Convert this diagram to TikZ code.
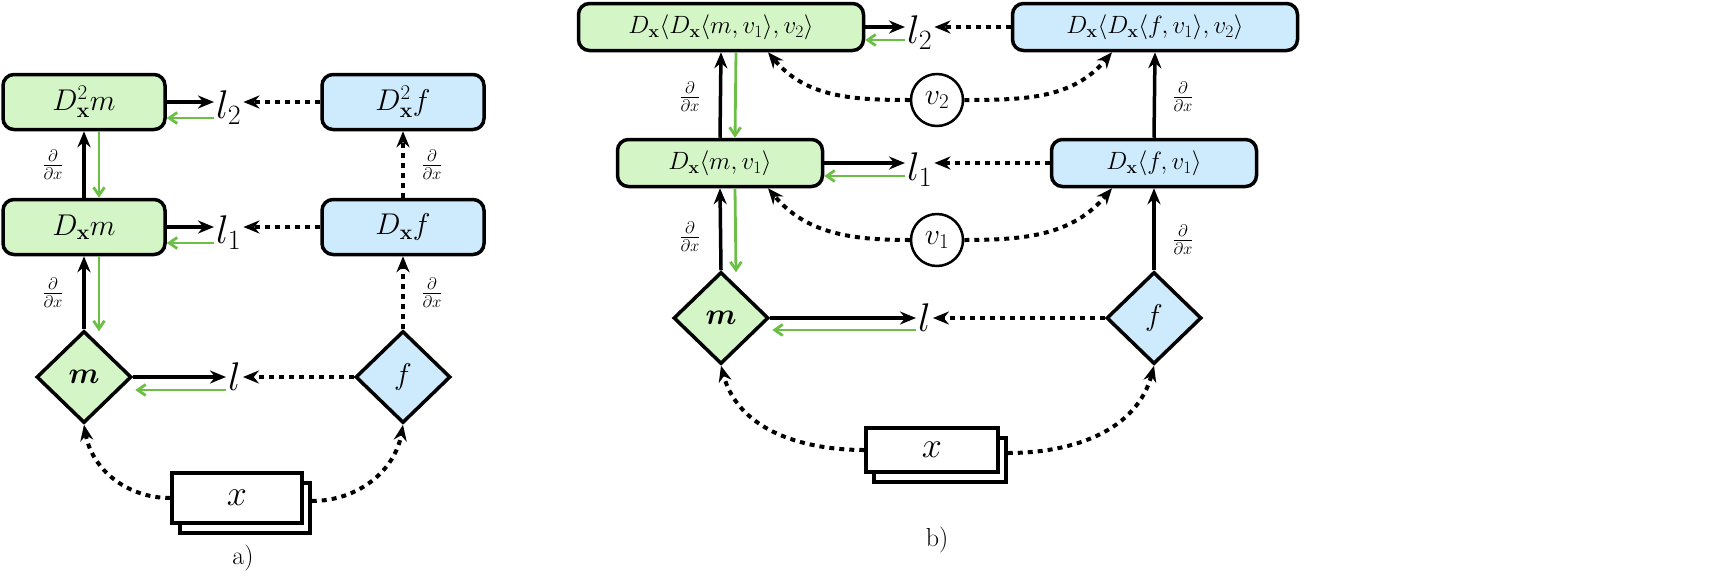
\RequirePackage{fix-cm}
\documentclass[tikz,border=0pt]{standalone}
\usepackage{amsmath}
\usetikzlibrary{shapes.geometric,arrows.meta,shadows}
\definecolor{gfill}{HTML}{D4F5C6}
\definecolor{bfill}{HTML}{CDEBFD}
\definecolor{garr}{HTML}{6CBF45}
\begin{document}
\begin{tikzpicture}[x=1pt,y=-1pt,
  box/.style={draw=black,line width=3.5pt,rounded corners=11pt,inner sep=0pt,font=\fontsize{30}{36}\selectfont},
  gbox/.style={box,fill=gfill},
  bbox/.style={box,fill=bfill},
  dia/.style={diamond,draw=black,line width=3.5pt,inner sep=0pt,minimum width=95pt,minimum height=92pt,font=\fontsize{30}{36}\selectfont},
  lab/.style={inner sep=2pt,font=\fontsize{40}{44}\selectfont},
  pd/.style={inner sep=0pt,font=\fontsize{24}{28}\selectfont},
  tip/.style={-{Stealth[length=16pt,width=13pt]}},
  ar/.style={tip,line width=3.5pt},
  dt/.style={tip,line width=4pt,dash pattern=on 5pt off 5pt},
  gr/.style={-{Straight Barb[length=8pt,width=11pt]},line width=2.8pt,draw=garr},
  xbox/.style={draw=black,line width=3.5pt,fill=white,inner sep=0pt,font=\fontsize{36}{40}\selectfont,
    copy shadow={shadow xshift=8pt,shadow yshift=-10pt,draw=black,fill=white,line width=3.5pt}},
  caplab/.style={font=\fontsize{26}{30}\selectfont}]
\useasboundingbox (0,0) rectangle (1710,579);
% ---------- panel a ----------
\node[gbox,minimum width=162pt,minimum height=55pt] (Gm2) at (84,102) {$D_{\mathbf{x}}^2 m$};
\node[gbox,minimum width=162pt,minimum height=55pt] (Gm1) at (84,227) {$D_{\mathbf{x}} m$};
\node[dia,fill=gfill] (ma) at (84,377) {$\boldsymbol{m}$};
\node[bbox,minimum width=162pt,minimum height=55pt] (Bf2) at (403,102) {$D_{\mathbf{x}}^2 f$};
\node[bbox,minimum width=162pt,minimum height=55pt] (Bf1) at (403,227) {$D_{\mathbf{x}} f$};
\node[dia,fill=bfill] (fa) at (403,377) {$f$};
\node[lab,anchor=west] (la2) at (214,108) {$l_2$};
\node[lab,anchor=west] (la1) at (214,233) {$l_1$};
\node[lab,anchor=west] (la) at (226,377) {$l$};
\node[xbox,minimum width=130pt,minimum height=50pt] (xa) at (237,498) {$x$};
\node[caplab] (capa) at (243,558) {a)};
\draw[ar] (Gm2.east) -- (Gm2.east -| la2.west);
\draw[ar] (Gm1.east) -- (Gm1.east -| la1.west);
\draw[ar] (ma.east) -- (ma.east -| la.west);
\draw[gr] ([yshift=-16pt]Gm2.east -| la2.west) -- ([yshift=-16pt]Gm2.east);
\draw[gr] ([yshift=-16pt]Gm1.east -| la1.west) -- ([yshift=-16pt]Gm1.east);
\draw[gr] ([yshift=-13pt]ma.east -| la.west) -- ([yshift=-13pt,xshift=2pt]ma.east);
\draw[dt] (Bf2.west) -- (Bf2.west -| la2.east);
\draw[dt] (Bf1.west) -- (Bf1.west -| la1.east);
\draw[dt] (fa.west) -- (fa.west -| la.east);
\draw[ar] (Gm1.north) -- (Gm2.south);
\draw[ar] (ma.north) -- (Gm1.south);
\draw[gr] ([xshift=15pt]Gm2.south) -- ([xshift=15pt]Gm1.north);
\draw[gr] ([xshift=15pt]Gm1.south) -- ([xshift=15pt,yshift=-2pt]ma.north);
\draw[dt] (Bf1.north) -- (Bf2.south);
\draw[dt] (fa.north) -- (Bf1.south);
\node[pd] (pa1) at (53,165) {$\frac{\partial}{\partial x}$};
\node[pd] (pa2) at (53,293) {$\frac{\partial}{\partial x}$};
\node[pd] (pa3) at (432,165) {$\frac{\partial}{\partial x}$};
\node[pd] (pa4) at (432,293) {$\frac{\partial}{\partial x}$};
\draw[dt] (xa.west) to[out=180,in=-80] (ma.south);
\draw[dt] ([xshift=8pt,yshift=-3pt]xa.east) to[out=0,in=-100] (fa.south);
% ---------- panel b ----------
\node[gbox,minimum width=285pt,minimum height=47pt,font=\fontsize{25}{30}\selectfont] (Gt) at (721,27) {$D_{\mathbf{x}}\langle D_{\mathbf{x}}\langle m,v_1\rangle,v_2\rangle$};
\node[gbox,minimum width=205pt,minimum height=47pt,font=\fontsize{25}{30}\selectfont] (G1) at (720,163) {$D_{\mathbf{x}}\langle m,v_1\rangle$};
\node[dia,fill=gfill] (mb) at (721,318) {$\boldsymbol{m}$};
\node[bbox,minimum width=285pt,minimum height=47pt,font=\fontsize{25}{30}\selectfont] (Bt) at (1155,27) {$D_{\mathbf{x}}\langle D_{\mathbf{x}}\langle f,v_1\rangle,v_2\rangle$};
\node[bbox,minimum width=205pt,minimum height=47pt,font=\fontsize{25}{30}\selectfont] (B1) at (1154,163) {$D_{\mathbf{x}}\langle f,v_1\rangle$};
\node[dia,fill=bfill] (fb) at (1154,318) {$f$};
\node[lab,anchor=west] (lb2) at (905,33) {$l_2$};
\node[lab,anchor=west] (lb1) at (905,170) {$l_1$};
\node[lab,anchor=west] (lb) at (916,318) {$l$};
\node[circle,draw=black,line width=2.5pt,minimum size=52pt,inner sep=0pt,font=\fontsize{30}{34}\selectfont] (v2) at (937,100) {$v_2$};
\node[circle,draw=black,line width=2.5pt,minimum size=52pt,inner sep=0pt,font=\fontsize{30}{34}\selectfont] (v1) at (937,240) {$v_1$};
\node[xbox,minimum width=132pt,minimum height=44pt] (xb) at (932,450) {$x$};
\node[caplab] (capb) at (937,540) {b)};
\draw[ar] (Gt.east) -- (Gt.east -| lb2.west);
\draw[ar] (G1.east) -- (G1.east -| lb1.west);
\draw[ar] (mb.east) -- (mb.east -| lb.west);
\draw[gr] ([yshift=-13pt]Gt.east -| lb2.west) -- ([yshift=-13pt]Gt.east);
\draw[gr] ([yshift=-13pt]G1.east -| lb1.west) -- ([yshift=-13pt]G1.east);
\draw[gr] ([yshift=-12pt]mb.east -| lb.west) -- ([yshift=-12pt,xshift=2pt]mb.east);
\draw[dt] (Bt.west) -- (Bt.west -| lb2.east);
\draw[dt] (B1.west) -- (B1.west -| lb1.east);
\draw[dt] (fb.west) -- (fb.west -| lb.east);
\draw[ar] (G1.north) -- (Gt.south);
\draw[ar] (mb.north) -- (G1.south);
\draw[gr] ([xshift=15pt]Gt.south) -- ([xshift=15pt]G1.north);
\draw[gr] ([xshift=15pt]G1.south) -- ([xshift=15pt,yshift=-2pt]mb.north);
\draw[ar] (B1.north) -- (Bt.south);
\draw[ar] (fb.north) -- (B1.south);
\node[pd] (pb1) at (690,97) {$\frac{\partial}{\partial x}$};
\node[pd] (pb2) at (690,237) {$\frac{\partial}{\partial x}$};
\node[pd] (pb3) at (1183,97) {$\frac{\partial}{\partial x}$};
\node[pd] (pb4) at (1183,240) {$\frac{\partial}{\partial x}$};
\draw[dt] (v2.west) to[out=180,in=-50] ([xshift=47pt]Gt.south);
\draw[dt] (v2.east) to[out=0,in=-130] ([xshift=-43pt]Bt.south);
\draw[dt] (v1.west) to[out=180,in=-50] ([xshift=48pt]G1.south);
\draw[dt] (v1.east) to[out=0,in=-130] ([xshift=-42pt]B1.south);
\draw[dt] (xb.west) to[out=180,in=-75] (mb.south);
\draw[dt] ([xshift=8pt,yshift=-3pt]xb.east) to[out=0,in=-105] (fb.south);
\end{tikzpicture}
\end{document}
